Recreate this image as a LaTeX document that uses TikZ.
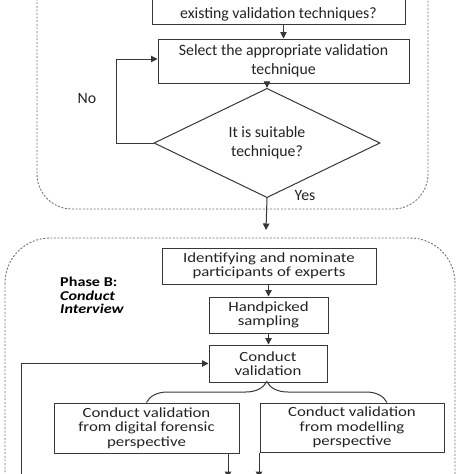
\documentclass[tikz,border=0pt]{standalone}
\usepackage{fontspec}
\setmainfont{Carlito}
\newfontfamily\lowfont{Carlito}[FakeStretch=1.2]
\usepackage{tikz}
\usetikzlibrary{arrows.meta,calc,positioning,shapes.geometric,decorations.pathreplacing}
\definecolor{linegray}{RGB}{55,55,55}
\definecolor{txtgray}{RGB}{35,35,35}
\definecolor{dashgray}{RGB}{115,115,115}
\tikzset{
  stepbox/.style={draw=linegray, line width=1pt, align=center, inner sep=0pt, text=txtgray},
  upbox/.style={stepbox, font=\fontsize{15.8}{19}\selectfont},
  lowbox/.style={stepbox, font=\lowfont\fontsize{14}{14.5}\selectfont},
  lbl/.style={text=txtgray, inner sep=0pt, font=\fontsize{15.8}{19}\selectfont},
  arr/.style={-{Triangle[length=6.5pt,width=6.5pt]}, draw=linegray, line width=1pt},
  phase/.style={draw=dashgray, line width=0.9pt, dash pattern=on 2pt off 1.6pt}
}

\begin{document}
\begin{tikzpicture}[x=1pt,y=-1pt]
    \useasboundingbox (0,0) rectangle (474,474);
    \clip (0,0) rectangle (474,474);
    \draw[phase, rounded corners=35pt] (37,-40) rectangle (428,209);
    \draw[phase, rounded corners=45pt] (5,238) rectangle (455,540);
    \node[upbox, minimum width=253pt, minimum height=60pt, anchor=south] (topq) at (278.5,25) {};
    \node[lbl] (topqtxt) at (278.5,14) {existing validation techniques?};
    \node[upbox, minimum width=251pt, minimum height=44pt] (selbox) at (283.5,61) {Select the appropriate validation\\technique};
    \node[upbox, diamond, minimum width=226pt, minimum height=88pt] (suit) at (267,143) {It is suitable\\technique?};
    \node[lbl] (nolbl) at (87,98) {No};
    \node[lbl] (yeslbl) at (305,195) {Yes};
    \coordinate (noturn) at (116,143);
    \coordinate (yesend) at (266,230);
    \draw[arr] (topq.south -| selbox.north) -- (selbox.north);
    \draw[arr] (selbox.south -| suit.north) -- (suit.north);
    \draw[arr] (suit.west) -- (noturn) |- ([yshift=2pt]selbox.west);
    \draw[arr] (suit.south) -- (yesend);
    \node[lowbox, minimum width=214pt, minimum height=36pt] (idbox) at (269,266) {Identifying and nominate\\participants of experts};
    \node[lowbox, minimum width=119pt, minimum height=36pt] (hand) at (268.5,315) {Handpicked\\sampling};
    \node[lowbox, minimum width=118pt, minimum height=37pt] (convalid) at (268,363.5) {Conduct\\validation};
    \node[anchor=west, align=left, inner sep=0pt, text=black, font=\lowfont\fontsize{13.5}{13.5}\selectfont\bfseries] (phaseb) at (60,295.5) {Phase B:\\\textit{Conduct}\\\textit{Interview}};
    \node[lowbox, minimum width=185pt, minimum height=50pt] (dfbox) at (146.5,428) {Conduct validation\\from digital forensic\\perspective};
    \node[lowbox, minimum width=184pt, minimum height=49pt] (mobox) at (352,427.5) {Conduct validation\\from modelling\\perspective};
    \draw[arr] (idbox.south -| hand.north) -- (hand.north);
    \draw[arr] (hand.south) -- (hand.south |- convalid.north);
    \draw[linegray, line width=1pt, decorate, decoration={brace, amplitude=21pt}] (dfbox.north) -- ([xshift=35pt]mobox.north);
    \coordinate (backin) at (21,490);
    \draw[arr] (backin) |- (convalid.west);
    \coordinate (dfout) at (228,478);
    \coordinate (moout) at (259,478);
    \draw[arr] (dfbox.south -| dfout) -- (dfout);
    \draw[arr] (mobox.south -| moout) -- (moout);
\end{tikzpicture}
\end{document}
